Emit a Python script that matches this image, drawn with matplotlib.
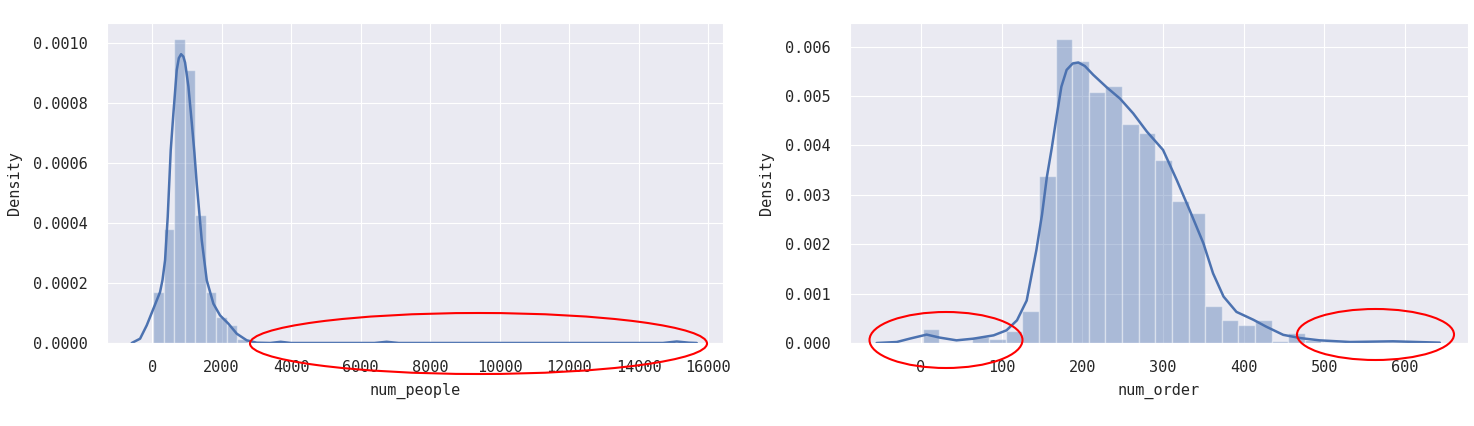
import numpy as np
import matplotlib
matplotlib.use("Agg")
import matplotlib.pyplot as plt
from matplotlib.patches import Ellipse
import seaborn as sns

# num_people: 50 bins between min and max
people_range = (37, 15137)
people_hist = [0.000170, 0.000380, 0.001013, 0.000911, 0.000428,
               0.000169, 0.000087, 0.000059, 0.000014, 0.0,
               0.0, 0.0, 0.000004, 0.0, 0.0, 0.0, 0.0, 0.0, 0.0, 0.0,
               0.0, 0.0, 0.000003, 0.0, 0.0, 0.0, 0.0, 0.0, 0.0, 0.0,
               0.0, 0.0, 0.0, 0.0, 0.0, 0.0, 0.0, 0.0, 0.0, 0.0,
               0.0, 0.0, 0.0, 0.0, 0.0, 0.0, 0.0, 0.0, 0.0, 0.000004]
people_kde_x = [-585, -345, -153, 37, 230, 300, 374, 450, 537, 614, 710,
                770, 835, 900, 950, 1046, 1142, 1218, 1286, 1430, 1574,
                1765, 1957, 2197, 2437, 2725, 3012,
                3400, 3700, 4000, 6400, 6750, 7100, 14700, 15100, 15450, 15675]
people_kde_y = [0.0, 0.0000144, 0.000059, 0.000114, 0.00017, 0.00021,
                0.000276, 0.00042, 0.000643, 0.000766, 0.00091, 0.00095,
                0.000963, 0.000955, 0.000935, 0.000855, 0.000735, 0.000635,
                0.00053, 0.000342, 0.000209, 0.000131, 0.000092, 0.0000644,
                0.000031, 0.0000089, 0.000001,
                0.0, 0.000004, 0.0, 0.0, 0.000004, 0.0, 0.0, 0.000005,
                0.000001, 0.0]

# num_order: 30 bins between min and max
order_range = (2, 620)
order_hist = [0.00029, 0.0, 0.0, 0.00012, 0.000074, 0.000236, 0.00065,
              0.00338, 0.00616, 0.00572, 0.00509, 0.00521, 0.00443, 0.00426,
              0.0037, 0.00287, 0.00264, 0.00074, 0.00047, 0.00036, 0.00047,
              0.000034, 0.0002, 0.000068, 0.00003, 0.0, 0.0, 0.0, 0.00003,
              0.0]
order_kde_x = [-55, -30, -14, 7, 23, 44, 65, 90, 106, 119, 131, 143, 150,
               156, 162, 168, 174, 180.5, 188, 195, 203, 213.5, 230, 246.6,
               263, 280, 300, 317, 333, 350, 362, 375, 391, 412, 428, 449,
               470, 494, 532, 585, 643]
order_kde_y = [0.0, 0.00002, 0.000088, 0.00017, 0.00011, 0.000054,
               0.000088, 0.000155, 0.000257, 0.00046, 0.00086, 0.00188,
               0.0026, 0.00336, 0.00394, 0.00458, 0.00519, 0.00553, 0.00566,
               0.00568, 0.00561, 0.00543, 0.00518, 0.00495, 0.00465, 0.00428,
               0.00391, 0.0033, 0.00269, 0.00202, 0.00141, 0.00094, 0.00063,
               0.00047, 0.00033, 0.000165, 0.0001, 0.000054, 0.00002,
               0.000034, 0.000007]

sns.set_style("darkgrid")
plt.rcParams['font.family'] = ['DejaVu Sans Mono']
plt.rcParams['text.color'] = '.15'
plt.rcParams['axes.labelcolor'] = '.15'
plt.rcParams['xtick.color'] = '.15'
plt.rcParams['ytick.color'] = '.15'

W, H = 1474, 426
fig = plt.figure(figsize=(W / 100, H / 100), dpi=100)
ax1 = fig.add_axes([107 / W, 1 - 343 / H, 616 / W, 320 / H])
ax2 = fig.add_axes([850 / W, 1 - 343 / H, 618 / W, 320 / H])

blue = '#4C72B0'


def draw(ax, rng, hist, kx, ky, label):
    edges = np.linspace(rng[0], rng[1], len(hist) + 1)
    ax.bar(edges[:-1], hist, width=np.diff(edges), align='edge',
           color=blue, alpha=0.4, edgecolor='white', linewidth=1)
    ax.plot(kx, ky, color=blue, lw=1.8, solid_joinstyle='round')
    ax.set_xlabel(label, fontsize=11, labelpad=6)
    ax.set_ylabel('Density', fontsize=11, labelpad=8)
    ax.tick_params(labelsize=11, length=0)
    ax.tick_params(axis='x', pad=12)
    ax.tick_params(axis='y', pad=14)


draw(ax1, people_range, people_hist, people_kde_x, people_kde_y, 'num_people')
ax1.set_xlim(-1297, 16430)
ax1.set_ylim(0, 0.001067)
ax1.set_xticks(np.arange(0, 16001, 2000))
ax1.set_yticks(np.arange(0, 0.00101, 0.0002))
ax1.yaxis.set_major_formatter(plt.FormatStrFormatter('%.4f'))

draw(ax2, order_range, order_hist, order_kde_x, order_kde_y, 'num_order')
ax2.set_xlim(-88, 678)
ax2.set_ylim(0, 0.00648)
ax2.set_xticks(np.arange(0, 601, 100))
ax2.set_yticks(np.arange(0, 0.00601, 0.001))
ax2.yaxis.set_major_formatter(plt.FormatStrFormatter('%.3f'))

# red ellipses marking outliers (pixel centres / sizes)
for cx, cy, w, h in [(478.5, 343.5, 457, 61), (946, 340, 153, 56),
                     (1375.5, 334.5, 157, 51)]:
    e = Ellipse((cx / W, 1 - cy / H), w / W, h / H, transform=fig.transFigure,
                fill=False, edgecolor='red', lw=1.5, zorder=10)
    fig.patches.append(e)

fig.savefig('out.png', dpi=100)
